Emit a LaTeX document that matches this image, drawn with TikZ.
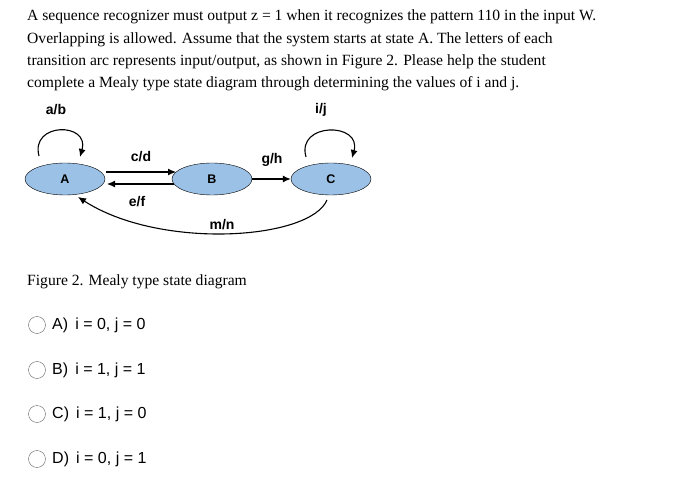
\documentclass[tikz,border=0pt]{standalone}
\usepackage{fontspec}
\setmainfont{Liberation Serif}
\newfontfamily\arialf{Liberation Sans}
\usetikzlibrary{arrows.meta,shapes.geometric}
\definecolor{stfill}{RGB}{155,194,230}
\begin{document}
\begin{tikzpicture}[x=1pt,y=-1pt,
  st/.style={ellipse,draw=black,fill=stfill,minimum width=80pt,minimum height=32pt,font=\arialf\bfseries\fontsize{12.5}{14}\selectfont,inner sep=0pt},
  lab/.style={font=\arialf\bfseries\fontsize{14}{16}\selectfont,inner sep=0pt},
  body/.style={anchor=west,font=\fontsize{15.6}{18}\selectfont,inner sep=0pt},
  opt/.style={anchor=west,font=\arialf\fontsize{16}{18}\selectfont,inner sep=0pt},
  rad/.style={circle,draw=black!60,minimum size=17pt,inner sep=0pt},
  arr/.style={-{Latex[length=8pt,width=7pt]},line width=1.1pt}]
\useasboundingbox (0,0) rectangle (674,486);
\node[body] (t1) at (27,17) {A sequence recognizer must output z = 1 when it recognizes the pattern 110 in the input W.};
\node[body] (t2) at (27,40) {Overlapping is allowed. Assume that the system starts at state A. The letters of each};
\node[body] (t3) at (27,62) {transition arc represents input/output, as shown in Figure 2. Please help the student};
\node[body] (t4) at (27,84) {complete a Mealy type state diagram through determining the values of i and j.};
\node[st] (A) at (65,179) {A};
\node[st] (B) at (212,179) {B};
\node[st] (C) at (331,179) {C};
\coordinate (a1) at (39,156); \coordinate (a2) at (80,157);
\draw[arr] (a1) .. controls (30,122) and (90,122) .. (a2);
\coordinate (c1) at (306,157); \coordinate (c2) at (352,158);
\draw[arr] (c1) .. controls (296,122) and (362,122) .. (c2);
\coordinate (ab1) at (106,172); \coordinate (ab2) at (176,172);
\draw[arr] (ab1) -- (ab2);
\coordinate (ba1) at (174,184); \coordinate (ba2) at (107,184);
\draw[arr] (ba1) -- (ba2);
\draw[arr] (B) -- (C);
\coordinate (ca1) at (327,200); \coordinate (ca2) at (78,197);
\draw[arr] (ca1) .. controls (310,240) and (160,250) .. (ca2);
\node[lab] (lab1) at (56,110) {a/b};
\node[lab] (lab2) at (321,110) {i/j};
\node[lab] (lab3) at (141,157) {c/d};
\node[lab] (lab4) at (272,160) {g/h};
\node[lab] (lab5) at (137,202) {e/f};
\node[lab] (lab6) at (222,225) {m/n};
\node[body] (cap) at (27,282) {Figure 2. Mealy type state diagram};
\node[rad] (r1) at (37,325) {}; \node[opt] (o1) at (52,325) {A)\, i = 0, j = 0};
\node[rad] (r2) at (37,370) {}; \node[opt] (o2) at (52,370) {B)\, i = 1, j = 1};
\node[rad] (r3) at (37,414) {}; \node[opt] (o3) at (52,414) {C)\, i = 1, j = 0};
\node[rad] (r4) at (37,459) {}; \node[opt] (o4) at (52,459) {D)\, i = 0, j = 1};
\end{tikzpicture}
\end{document}
